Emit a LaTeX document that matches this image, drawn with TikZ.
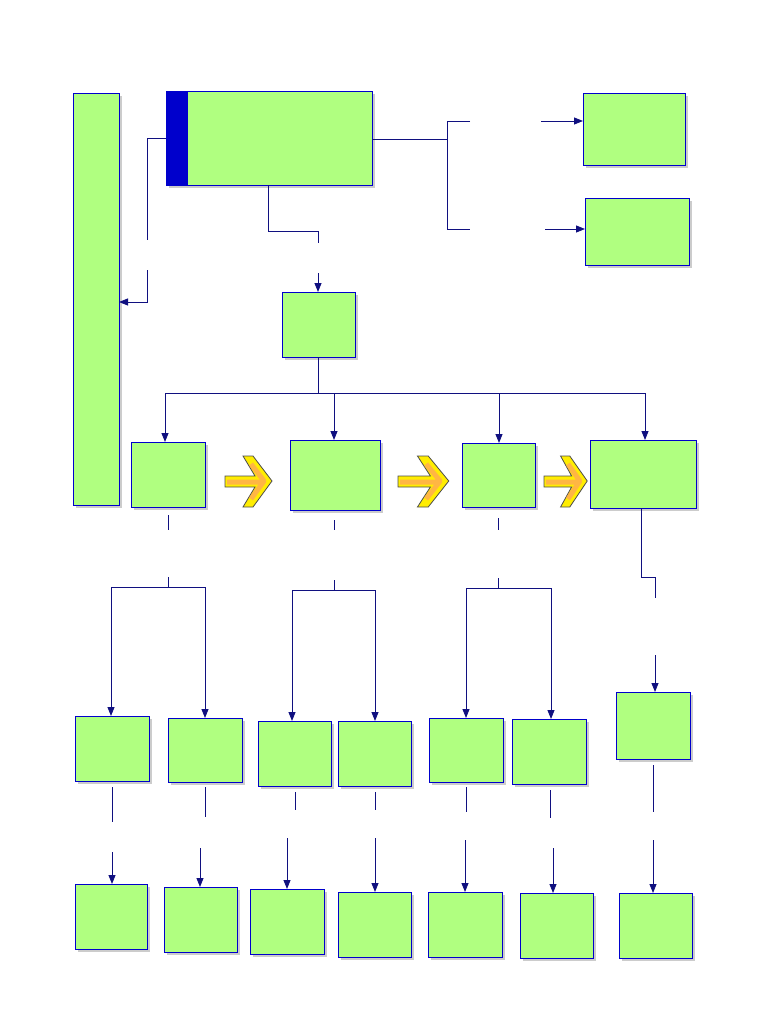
\documentclass[tikz,border=0pt]{standalone}
\usetikzlibrary{shadows,arrows.meta}
\definecolor{bx}{HTML}{B0FF80}
\definecolor{ln}{HTML}{101080}
\begin{document}
\begin{tikzpicture}[x=1pt,y=-1pt,
 box/.style={draw=blue!80!black,fill=bx,line width=0.8pt,drop shadow={shadow xshift=3pt,shadow yshift=-3pt,fill=gray!80}},
 c/.style={draw=ln,line width=0.9pt},
 a/.style={c,-{Triangle[length=9pt,width=7pt]}},
 ya/.style={draw=black!70,line width=0.8pt,fill=yellow!95!orange}]
\useasboundingbox (0,0) rectangle (768,1024);
\newcommand\bx[5]{\path[box] (#2,#3) rectangle (#4,#5); \coordinate (#1) at (#2,#3);}
\newcommand\yarrow[3]{\begin{scope}[shift={(#1,482)},xscale=#2]
\path[ya] (0,-6) -- (30,-6) -- (18,-26) -- (28,-26) -- (47,-1) -- (28,25) -- (18,25) -- (30,5) -- (0,5) -- cycle;
\draw[orange!50!pink,line width=5pt,line join=round,opacity=0.7] (2,0) -- (38,0) (26,-18) -- (39,-1) -- (26,17);
\end{scope}\coordinate (#3) at (#1,482);}
\bx{L}{73}{93}{119}{505}
\bx{T}{166}{91}{372}{185}
\fill[blue!80!black] (166,91) rectangle (188,185);
\bx{R1}{583}{93}{685}{165}
\bx{R2}{585}{198}{689}{265}
\bx{M}{282}{292}{355}{357}
\bx{A}{131}{442}{205}{507}
\bx{B}{290}{440}{380}{510}
\bx{C}{462}{443}{535}{507}
\bx{D}{590}{440}{696}{508}
\bx{E1}{75}{716}{149}{781}
\bx{E2}{168}{718}{242}{782}
\bx{E3}{258}{721}{331}{786}
\bx{E4}{338}{721}{411}{786}
\bx{E5}{429}{718}{503}{782}
\bx{E6}{512}{719}{586}{784}
\bx{E7}{616}{692}{690}{759}
\bx{F1}{75}{884}{147}{949}
\bx{F2}{164}{887}{237}{952}
\bx{F3}{250}{889}{324}{954}
\bx{F4}{338}{892}{411}{957}
\bx{F5}{428}{892}{502}{957}
\bx{F6}{520}{893}{593}{958}
\bx{F7}{619}{893}{692}{958}
% top right
\draw[c] (372,139) -- (447,139) (470,121) -- (447,121) -- (447,229) -- (470,229);
\draw[a] (541,121) -- (583,121);
\draw[a] (545,229) -- (585,229);
% left
\draw[c] (166,138) -- (147,138) -- (147,240);
\draw[a] (147,270) -- (147,302) -- (119,302);
% down to M
\draw[c] (268,185) -- (268,231) -- (318,231) -- (318,243);
\draw[a] (318,273) -- (318,292);
% M to row 2
\draw[c] (318,357) -- (318,393) (165,393) -- (645,393);
\draw[a] (165,393) -- (165,442);
\draw[a] (334,393) -- (334,440);
\draw[a] (499,393) -- (499,443);
\draw[a] (645,393) -- (645,440);
% yellow arrows
\yarrow{225}{1}{y1}
\yarrow{398}{1.08}{y2}
\yarrow{544}{0.92}{y3}
% row2 to row3
\draw[c] (168,515) -- (168,530) (168,577) -- (168,587) (111,587) -- (205,587);
\draw[a] (111,587) -- (111,716); \draw[a] (205,587) -- (205,718);
\draw[c] (334,520) -- (334,530) (334,580) -- (334,590) (292,590) -- (375,590);
\draw[a] (292,590) -- (292,721); \draw[a] (375,590) -- (375,721);
\draw[c] (498,518) -- (498,530) (498,578) -- (498,588) (466,588) -- (551,588);
\draw[a] (466,588) -- (466,718); \draw[a] (551,588) -- (551,719);
\draw[c] (641,508) -- (641,577) -- (655,577) -- (655,598);
\draw[a] (655,655) -- (655,692);
% row3 to row4
\draw[c] (112,787) -- (112,822); \draw[a] (112,852) -- (112,884);
\draw[c] (205,787) -- (205,817); \draw[a] (200,848) -- (200,887);
\draw[c] (295,792) -- (295,810); \draw[a] (287,838) -- (287,889);
\draw[c] (375,792) -- (375,810); \draw[a] (375,838) -- (375,892);
\draw[c] (466,787) -- (466,812); \draw[a] (465,840) -- (465,892);
\draw[c] (550,790) -- (550,818); \draw[a] (553,848) -- (553,893);
\draw[c] (653,765) -- (653,812); \draw[a] (653,840) -- (653,893);
\end{tikzpicture}
\end{document}
